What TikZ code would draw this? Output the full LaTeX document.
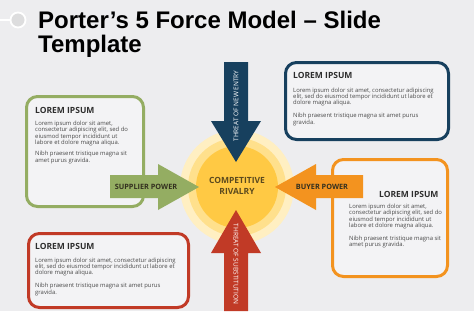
\documentclass[tikz,border=0pt]{standalone}
\usepackage{fontspec}
\setmainfont{Open Sans}
\newfontfamily\titlefont{Liberation Sans}
\definecolor{bg}{HTML}{EDEDEF}
\definecolor{boxfill}{HTML}{F3F3F5}
\definecolor{cgreen}{HTML}{94AD62}
\definecolor{cnavy}{HTML}{17405E}
\definecolor{corange}{HTML}{F3931F}
\definecolor{cred}{HTML}{C13A26}
\definecolor{glow1}{HTML}{FFEFC2}
\definecolor{glow2}{HTML}{FFE08C}
\definecolor{core}{HTML}{FFC944}
\definecolor{coretext}{HTML}{5C4A1E}
\definecolor{headc}{HTML}{2E2E2E}
\definecolor{bodyc}{HTML}{4A4A4A}
\definecolor{darklabel}{HTML}{33301F}
\begin{document}
\begin{tikzpicture}[x=1pt,y=-1pt,
  box/.style={draw, line width=3pt, rounded corners=11pt, fill=boxfill, inner sep=0},
  headtxt/.style={font=\bfseries\fontsize{8.5}{10}\selectfont, text=headc, anchor=base west, inner sep=0},
  bodytxt/.style={font=\fontsize{5.9}{6.3}\selectfont, text=bodyc, anchor=base west, inner sep=0, align=left},
  arrowlabel/.style={font=\bfseries\fontsize{7.3}{8}\selectfont, inner sep=0},
  vlabel/.style={font=\fontsize{6.5}{7}\selectfont, text=white, inner sep=0}]
\path[use as bounding box, fill=bg] (0,0) rectangle (474,311);

% title
\draw[white, line width=1.5pt] (0,20) -- (10,20);
\node[circle, draw=white, line width=1.8pt, fill=bg!85!gray, minimum size=15pt, inner sep=0] (tc) at (18,20) {};
\node[font=\titlefont\bfseries\fontsize{24}{24}\selectfont, anchor=base west, inner sep=0, align=left] (title) at (38,52) {Porter’s 5 Force Model – Slide\\Template};

% boxes
\node[box, draw=cgreen, minimum width=117pt, minimum height=110pt] (gbox) at (85,151.5) {};
\node[box, draw=cnavy, minimum width=163pt, minimum height=77pt] (nbox) at (367,101) {};
\node[box, draw=corange, minimum width=115pt, minimum height=117pt] (obox) at (390,218) {};
\node[box, draw=cred, minimum width=160pt, minimum height=74pt] (rbox) at (108.5,270.5) {};

% box texts (multi-line nodes: base = last line's baseline)
\node[headtxt] (gh) at (35,113) {LOREM IPSUM};
\node[bodytxt] (gb) at (35,162) {Lorem ipsum dolor sit amet,\\consectetur adipiscing elit, sed do\\eiusmod tempor incididunt ut\\labore et dolore magna aliqua.\\[5pt]Nibh praesent tristique magna sit\\amet purus gravida.};

\node[headtxt] (nh) at (293,78) {LOREM IPSUM};
\node[bodytxt] (nb) at (293,124) {Lorem ipsum dolor sit amet, consectetur adipiscing\\elit, sed do eiusmod tempor incididunt ut labore et\\dolore magna aliqua.\\[6.7pt]Nibh praesent tristique magna sit amet purus\\gravida.};

\node[headtxt] (oh) at (379,197) {LOREM IPSUM};
\node[bodytxt] (ob) at (349,246.7) {Lorem ipsum dolor sit amet,\\consectetur adipiscing elit, sed do\\eiusmod tempor incididunt ut\\labore et dolore magna aliqua.\\[6.7pt]Nibh praesent tristique magna sit\\amet purus gravida.};

\node[headtxt] (rh) at (35,249) {LOREM IPSUM};
\node[bodytxt] (rb) at (35,294) {Lorem ipsum dolor sit amet, consectetur adipiscing\\elit, sed do eiusmod tempor incididunt ut labore et\\dolore magna aliqua.\\[6.7pt]Nibh praesent tristique magna sit amet purus\\gravida.};

% central circle
\fill[glow1] (237,187) circle (57);
\fill[glow2] (237,187) circle (49);
\node[circle, fill=core, minimum size=82pt, inner sep=0] (core) at (237,187) {};
\node[font=\bfseries\fontsize{8.5}{11}\selectfont, text=coretext, align=center, inner sep=0] (rivalry) at (237,186) {COMPETITIVE\\RIVALRY};

% arrows
\fill[cnavy] (224,62) -- (248,62) -- (248,121) -- (261,121) -- (236,162) -- (211,121) -- (224,121) -- cycle;
\fill[cred] (224,311) -- (248,311) -- (248,253) -- (261,253) -- (236,210) -- (211,253) -- (224,253) -- cycle;
\fill[cgreen] (110,175) -- (158,175) -- (158,164) -- (199,187) -- (158,210) -- (158,198) -- (110,198) -- cycle;
\fill[corange] (363,175) -- (316,175) -- (316,164) -- (275,187) -- (316,210) -- (316,198) -- (363,198) -- cycle;

\node[vlabel, rotate=90] (newentry) at (236,106) {THREAT OF NEW ENTRY};
\node[vlabel, rotate=-90] (subst) at (236,264) {THREAT OF SUBSTITUTION};
\node[arrowlabel, text=darklabel] (supplier) at (146,187) {SUPPLIER POWER};
\node[arrowlabel, text=darklabel] (buyer) at (322,187) {BUYER POWER};
\end{tikzpicture}
\end{document}
